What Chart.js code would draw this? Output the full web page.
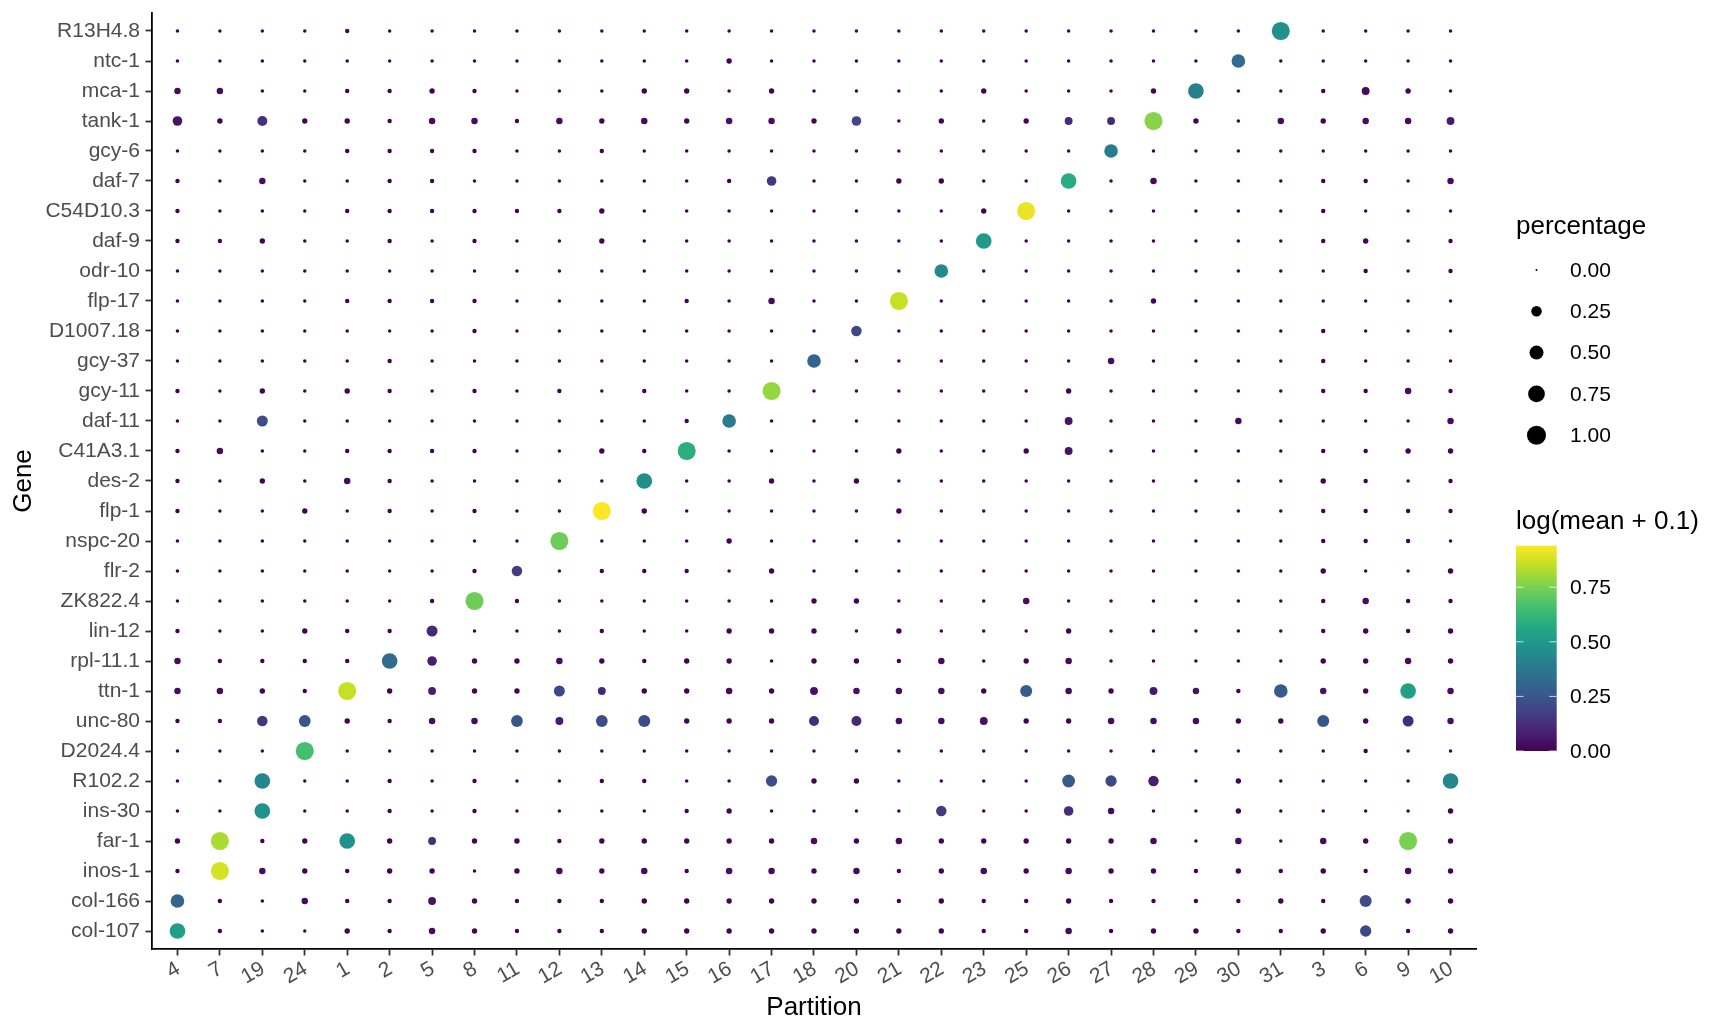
<!DOCTYPE html>
<html>
<head>
<meta charset="utf-8">
<script src="https://cdn.jsdelivr.net/npm/chart.js@4.4.1/dist/chart.umd.min.js"></script>
<style>
  html, body { margin: 0; padding: 0; background: #fff; }
  canvas { display: block; }
</style>
</head>
<body>
<canvas id="dotplot" width="1728" height="1036"></canvas>
<script>
// genes from top to bottom, partitions from left to right
const genes = ['R13H4.8', 'ntc-1', 'mca-1', 'tank-1', 'gcy-6', 'daf-7', 'C54D10.3', 'daf-9', 'odr-10', 'flp-17',
    'D1007.18', 'gcy-37', 'gcy-11', 'daf-11', 'C41A3.1', 'des-2', 'flp-1', 'nspc-20', 'flr-2', 'ZK822.4',
    'lin-12', 'rpl-11.1', 'ttn-1', 'unc-80', 'D2024.4', 'R102.2', 'ins-30', 'far-1', 'inos-1', 'col-166', 'col-107'];
const partitions = ['4', '7', '19', '24', '1', '2', '5', '8', '11', '12', '13', '14', '15', '16', '17', '18',
    '20', '21', '22', '23', '25', '26', '27', '28', '29', '30', '31', '3', '6', '9', '10'];

// fraction of cells expressing, one row per gene
const percentage = [
    [.008,.008,.008,.008,.02,.008,.008,.008,.008,.008,.008, .008,.008,.008,.008,.008,.008,.008,.008,.008,.008, .008,.008,.008,.008,.008,.9,.008,.008,.008,.008],
    [.008,.008,.008,.008,.008,.008,.008,.008,.008,.008,.008, .008,.008,.04,.008,.008,.008,.008,.008,.008,.008, .008,.008,.008,.008,.47,.008,.008,.008,.008,.008],
    [.07,.07,.008,.008,.02,.02,.04,.02,.008,.008,.008, .04,.04,.008,.04,.008,.008,.008,.008,.04,.008, .008,.008,.04,.65,.008,.008,.02,.12,.04,.008],
    [.2,.04,.22,.04,.04,.02,.07,.07,.02,.07,.04, .07,.04,.07,.07,.04,.2,.008,.04,.008,.04, .12,.12,.9,.04,.008,.07,.04,.07,.07,.12],
    [.008,.008,.008,.008,.02,.02,.02,.02,.008,.008,.02, .008,.008,.008,.008,.008,.008,.008,.008,.008,.008, .008,.47,.008,.008,.008,.008,.008,.008,.008,.008],
    [.02,.008,.07,.008,.008,.02,.02,.008,.008,.008,.008, .008,.008,.02,.2,.008,.008,.04,.04,.008,.008, .65,.008,.07,.008,.008,.008,.02,.02,.008,.07],
    [.02,.008,.008,.008,.02,.02,.02,.02,.02,.02,.04, .008,.008,.008,.008,.008,.008,.008,.008,.04,.9, .008,.008,.008,.008,.008,.008,.02,.008,.008,.008],
    [.02,.02,.04,.008,.008,.02,.008,.02,.008,.008,.04, .008,.008,.008,.008,.008,.008,.008,.008,.65,.008, .008,.008,.008,.008,.008,.008,.02,.04,.008,.02],
    [.008,.008,.008,.008,.008,.008,.008,.008,.008,.008,.008, .008,.008,.008,.008,.008,.008,.008,.47,.008,.008, .008,.008,.008,.008,.008,.008,.008,.02,.008,.02],
    [.008,.008,.008,.008,.02,.02,.02,.02,.008,.008,.008, .008,.02,.008,.07,.008,.008,.9,.008,.008,.008, .008,.008,.04,.008,.008,.008,.008,.008,.008,.008],
    [.008,.008,.008,.008,.008,.008,.008,.02,.008,.008,.008, .008,.008,.008,.008,.008,.25,.008,.008,.008,.008, .008,.008,.008,.008,.008,.008,.02,.008,.008,.008],
    [.008,.008,.008,.008,.008,.02,.008,.008,.008,.008,.008, .008,.008,.008,.008,.47,.008,.008,.008,.008,.008, .008,.07,.008,.008,.008,.008,.02,.008,.008,.008],
    [.02,.008,.04,.008,.04,.02,.008,.02,.008,.02,.008, .02,.008,.008,.9,.008,.008,.008,.008,.008,.008, .04,.008,.008,.008,.008,.008,.02,.02,.07,.02],
    [.008,.008,.28,.008,.008,.008,.008,.008,.008,.008,.008, .008,.02,.47,.008,.008,.008,.008,.008,.008,.008, .12,.008,.008,.008,.07,.008,.008,.008,.008,.07],
    [.02,.07,.008,.008,.02,.02,.02,.02,.008,.008,.04, .02,.9,.008,.008,.008,.008,.04,.008,.008,.04, .12,.008,.008,.008,.008,.008,.02,.02,.04,.04],
    [.02,.008,.04,.008,.07,.02,.008,.008,.008,.008,.008, .65,.008,.008,.04,.008,.04,.008,.008,.008,.008, .008,.008,.008,.008,.008,.008,.04,.02,.008,.02],
    [.02,.008,.008,.04,.008,.02,.008,.02,.008,.008,.9, .04,.008,.008,.008,.008,.008,.04,.008,.008,.008, .008,.008,.008,.008,.008,.008,.02,.02,.02,.02],
    [.008,.008,.008,.008,.008,.008,.008,.008,.008,.9,.008, .008,.008,.04,.008,.008,.008,.008,.008,.008,.008, .008,.008,.008,.008,.008,.008,.02,.02,.02,.008],
    [.008,.008,.008,.008,.008,.008,.008,.02,.25,.008,.02, .02,.02,.008,.04,.008,.008,.008,.008,.008,.008, .008,.008,.008,.008,.008,.008,.04,.008,.008,.04],
    [.008,.008,.008,.008,.008,.008,.02,.9,.02,.008,.008, .008,.008,.008,.008,.04,.04,.008,.008,.008,.07, .008,.008,.008,.008,.008,.008,.02,.07,.02,.02],
    [.02,.008,.008,.04,.02,.02,.28,.008,.008,.008,.02, .008,.008,.04,.04,.04,.008,.04,.008,.008,.008, .04,.008,.008,.008,.008,.008,.02,.04,.02,.04],
    [.07,.02,.02,.02,.02,.65,.2,.04,.04,.07,.04, .02,.04,.04,.008,.04,.04,.02,.07,.008,.04, .07,.008,.008,.008,.008,.008,.04,.04,.07,.04],
    [.07,.07,.04,.02,.9,.04,.12,.04,.04,.28,.12, .04,.04,.07,.04,.12,.07,.07,.07,.04,.35, .07,.04,.12,.07,.02,.47,.07,.04,.65,.07],
    [.02,.02,.25,.33,.04,.02,.07,.07,.33,.12,.33, .35,.04,.04,.04,.22,.22,.07,.07,.12,.04, .04,.07,.07,.07,.04,.04,.35,.04,.28,.07],
    [.008,.008,.008,.9,.008,.008,.008,.008,.008,.008,.008, .008,.008,.008,.008,.008,.008,.008,.008,.008,.008, .008,.008,.008,.008,.008,.008,.008,.02,.008,.008],
    [.008,.008,.65,.008,.008,.02,.008,.02,.008,.008,.02, .02,.008,.008,.3,.04,.04,.008,.008,.008,.008, .4,.3,.25,.008,.04,.008,.008,.008,.008,.65],
    [.008,.008,.65,.008,.008,.02,.008,.02,.008,.008,.008, .008,.02,.04,.008,.008,.008,.008,.25,.008,.008, .2,.07,.008,.008,.04,.008,.008,.008,.008,.04],
    [.04,.9,.02,.04,.65,.04,.12,.04,.04,.02,.04, .04,.04,.04,.04,.07,.04,.07,.04,.04,.04, .04,.04,.07,.008,.07,.008,.07,.04,.9,.04],
    [.02,.9,.07,.04,.02,.04,.04,.008,.04,.07,.04, .07,.02,.07,.07,.04,.07,.02,.04,.07,.04, .07,.04,.04,.02,.04,.02,.04,.02,.07,.04],
    [.47,.02,.008,.07,.02,.02,.12,.04,.02,.02,.02, .04,.04,.04,.04,.04,.04,.02,.04,.02,.02, .04,.02,.02,.02,.02,.04,.02,.35,.04,.04],
    [.65,.02,.008,.008,.04,.02,.07,.04,.02,.02,.02, .04,.04,.04,.04,.04,.04,.04,.04,.02,.02, .07,.02,.04,.04,.02,.02,.04,.3,.02,.04]
];

// log(mean + 0.1), same layout
const logMean = [
    [0,0,0,0,.01,0,0,0,0,0,0, 0,0,0,0,0,0,0,0,0,0, 0,0,0,0,0,.47,0,0,0,0],
    [0,0,0,0,0,0,0,0,0,0,0, 0,0,.01,0,0,0,0,0,0,0, 0,0,0,0,.33,0,0,0,0,0],
    [.03,.03,0,0,0,0,.01,0,0,0,0, .01,.01,0,.01,0,0,0,0,.01,0, 0,0,.01,.41,0,0,0,.03,.01,0],
    [.05,.01,.13,.01,.01,0,.03,.03,0,.03,.01, .03,.01,.05,.04,.01,.2,0,.01,0,.01, .12,.12,.77,.01,0,.03,.01,.03,.03,.07],
    [0,0,0,0,0,0,0,0,0,0,0, 0,0,0,0,0,0,0,0,0,0, 0,.39,0,0,0,0,0,0,0,0],
    [0,0,.04,0,0,0,0,0,0,0,0, 0,0,0,.15,0,0,.01,.01,0,0, .58,0,.03,0,0,0,0,0,0,.03],
    [0,0,0,0,0,0,0,0,0,0,.01, 0,0,0,0,0,0,0,0,.01,.91, 0,0,0,0,0,0,0,0,0,0],
    [0,0,.01,0,0,0,0,0,0,0,.01, 0,0,0,0,0,0,0,0,.51,0, 0,0,0,0,0,0,0,.01,0,0],
    [0,0,0,0,0,0,0,0,0,0,0, 0,0,0,0,0,0,0,.44,0,0, 0,0,0,0,0,0,0,0,0,0],
    [0,0,0,0,0,0,0,0,0,0,0, 0,0,0,.03,0,0,.86,0,0,0, 0,0,.01,0,0,0,0,0,0,0],
    [0,0,0,0,0,0,0,0,0,0,0, 0,0,0,0,0,.2,0,0,0,0, 0,0,0,0,0,0,0,0,0,0],
    [0,0,0,0,0,0,0,0,0,0,0, 0,0,0,0,.3,0,0,0,0,0, 0,.03,0,0,0,0,0,0,0,0],
    [0,0,.01,0,.01,0,0,0,0,0,0, 0,0,0,.79,0,0,0,0,0,0, .01,0,0,0,0,0,0,0,.03,0],
    [0,0,.22,0,0,0,0,0,0,0,0, 0,0,.39,0,0,0,0,0,0,0, .05,0,0,0,.03,0,0,0,0,.03],
    [0,.03,0,0,0,0,0,0,0,0,.01, 0,.59,0,0,0,0,.01,0,0,.01, .05,0,0,0,0,0,0,0,.01,.01],
    [0,0,.01,0,.03,0,0,0,0,0,0, .46,0,0,.01,0,.01,0,0,0,0, 0,0,0,0,0,0,.01,0,0,0],
    [0,0,0,.01,0,0,0,0,0,0,.94, .01,0,0,0,0,0,.01,0,0,0, 0,0,0,0,0,0,0,0,0,0],
    [0,0,0,0,0,0,0,0,0,.73,0, 0,0,.01,0,0,0,0,0,0,0, 0,0,0,0,0,0,0,0,0,0],
    [0,0,0,0,0,0,0,0,.16,0,0, 0,0,0,.01,0,0,0,0,0,0, 0,0,0,0,0,0,.01,0,0,.01],
    [0,0,0,0,0,0,0,.73,0,0,0, 0,0,0,0,.01,.01,0,0,0,.03, 0,0,0,0,0,0,0,.03,0,0],
    [0,0,0,.01,0,0,.11,0,0,0,0, 0,0,.01,.01,.01,0,.01,0,0,0, .01,0,0,0,0,0,0,.01,0,.01],
    [.03,0,0,0,0,.33,.08,.01,.01,.03,.01, 0,.01,.01,0,.01,.01,0,.03,0,.01, .03,0,0,0,0,0,.01,.01,.03,.01],
    [.03,.03,.01,0,.86,.01,.08,.01,.01,.2,.1, .01,.01,.03,.01,.05,.04,.04,.04,.01,.27, .03,.01,.06,.05,0,.27,.05,.01,.53,.03],
    [0,0,.14,.25,.01,0,.03,.03,.25,.07,.22, .22,.01,.01,.01,.12,.1,.03,.03,.05,.01, .01,.03,.03,.03,.01,.01,.25,.01,.12,.04],
    [0,0,0,.66,0,0,0,0,0,0,0, 0,0,0,0,0,0,0,0,0,0, 0,0,0,0,0,0,0,0,0,0],
    [0,0,.43,0,0,0,0,0,0,0,0, 0,0,0,.22,.01,.01,0,0,0,0, .26,.2,.08,0,.01,0,0,0,0,.43],
    [0,0,.47,0,0,0,0,0,0,0,0, 0,0,.01,0,0,0,0,.16,0,0, .12,.03,0,0,.01,0,0,0,0,.01],
    [.01,.82,0,.01,.47,.01,.13,.01,.01,0,.01, .01,.01,.01,.01,.03,.01,.03,.01,.01,.01, .01,.01,.03,0,.03,0,.03,.01,.75,.01],
    [0,.88,.03,.01,0,.01,.01,0,.01,.03,.01, .03,0,.03,.03,.01,.03,0,.01,.03,.01, .03,.01,.01,0,.01,0,.01,0,.03,.01],
    [.31,0,0,.03,0,0,.05,.01,0,0,0, .01,.01,.01,.01,.01,.01,0,.01,0,0, .01,0,0,0,0,.01,0,.22,.01,.01],
    [.52,0,0,0,.01,0,.03,.01,0,0,0, .01,.01,.01,.01,.01,.01,.01,.01,0,0, .03,0,.01,.01,0,0,.01,.2,0,.01]
];

const sizeBreaks = [0, 0.25, 0.5, 0.75, 1];
const colourBreaks = [0, 0.25, 0.5, 0.75];
const colourMax = 0.94;

const FONT = '"Liberation Sans", Arial, Helvetica, sans-serif';
const viridisStops = ['#440154', '#482475', '#414487', '#355f8d', '#2a788e', '#21918c',
    '#22a884', '#44bf70', '#7ad151', '#bddf26', '#fde725'];

function hexRgb(h) {
    return [parseInt(h.slice(1, 3), 16), parseInt(h.slice(3, 5), 16), parseInt(h.slice(5, 7), 16)];
}

function viridis(t) {
    t = Math.max(0, Math.min(1, t));
    var pos = t * (viridisStops.length - 1);
    var k = Math.min(Math.floor(pos), viridisStops.length - 2);
    var f = pos - k;
    var a = hexRgb(viridisStops[k]), b = hexRgb(viridisStops[k + 1]);
    var c = a.map((v, n) => Math.round(v + (b[n] - v) * f));
    return 'rgb(' + c.join(',') + ')';
}

// ggplot area scale -> radius in px
function dotRadius(p) {
    return 1 + 8.5 * Math.sqrt(p);
}

var points = [];
genes.forEach((g, j) => {
    partitions.forEach((part, i) => {
        points.push({ x: i, y: j, p: percentage[j][i], v: logMean[j][i] });
    });
});

// legend drawn by hand, ggplot style
const legendPlugin = {
    id: 'ggLegend',
    afterDraw(chart) {
        const ctx = chart.ctx;
        ctx.save();
        ctx.fillStyle = '#000';
        ctx.textAlign = 'left';

        ctx.font = '26px ' + FONT;
        ctx.textBaseline = 'alphabetic';
        ctx.fillText('percentage', 1516, 234);

        ctx.font = '21px ' + FONT;
        ctx.textBaseline = 'middle';
        sizeBreaks.forEach((b, k) => {
            var y = 270 + k * 41.3;
            ctx.beginPath();
            ctx.arc(1536.5, y, dotRadius(b), 0, Math.PI * 2);
            ctx.fill();
            ctx.fillText(b.toFixed(2), 1570, y + 1);
        });

        ctx.font = '26px ' + FONT;
        ctx.textBaseline = 'alphabetic';
        ctx.fillText('log(mean + 0.1)', 1516, 528.5);

        var barLeft = 1516, barW = 40.7, barTop = 545.7, barBottom = 751;
        var grad = ctx.createLinearGradient(0, barBottom, 0, barTop);
        viridisStops.forEach((c, k) => grad.addColorStop(k / (viridisStops.length - 1), c));
        ctx.fillStyle = grad;
        ctx.fillRect(barLeft, barTop, barW, barBottom - barTop);

        ctx.strokeStyle = 'rgba(255,255,255,0.75)';
        ctx.lineWidth = 1;
        ctx.fillStyle = '#000';
        ctx.font = '21px ' + FONT;
        ctx.textBaseline = 'middle';
        colourBreaks.forEach((b) => {
            var y = barBottom - (b / colourMax) * (barBottom - barTop);
            ctx.beginPath();
            ctx.moveTo(barLeft, y); ctx.lineTo(barLeft + 7.5, y);
            ctx.moveTo(barLeft + barW - 7.5, y); ctx.lineTo(barLeft + barW, y);
            ctx.stroke();
            ctx.fillText(b.toFixed(2), 1570, y + 1);
        });
        ctx.restore();
    }
};

const tickFont = { family: FONT, size: 21 };
const titleFont = { family: FONT, size: 26 };

new Chart(document.getElementById('dotplot'), {
    type: 'scatter',
    data: {
        datasets: [{
            data: points,
            pointRadius: (c) => dotRadius(c.raw.p),
            pointHoverRadius: (c) => dotRadius(c.raw.p),
            pointBackgroundColor: (c) => viridis(c.raw.v / colourMax),
            pointBorderWidth: 0,
            pointBorderColor: 'rgba(0,0,0,0)'
        }]
    },
    options: {
        responsive: false,
        devicePixelRatio: 1,
        animation: false,
        events: [],
        layout: { padding: { left: 0, top: 13, right: 252, bottom: 0 } },
        plugins: {
            legend: { display: false },
            tooltip: { enabled: false }
        },
        scales: {
            x: {
                type: 'linear',
                position: 'bottom',
                min: -0.6,
                max: partitions.length - 0.4,
                afterBuildTicks: (axis) => { axis.ticks = partitions.map((p, i) => ({ value: i })); },
                afterFit: (axis) => {
                    axis.height = 87;
                    axis.paddingLeft = 0; axis.paddingRight = 0;
                },
                grid: { drawOnChartArea: false, tickLength: 6.5, tickColor: '#333', tickWidth: 1.8 },
                border: { display: true, color: '#000', width: 1.8 },
                ticks: {
                    color: '#4d4d4d',
                    font: tickFont,
                    autoSkip: false,
                    minRotation: 30,
                    maxRotation: 30,
                    padding: 1,
                    labelOffset: 1,
                    callback: (v) => partitions[v]
                },
                title: { display: true, text: 'Partition', color: '#000', font: titleFont, padding: { top: 0, bottom: 13 } }
            },
            y: {
                type: 'linear',
                reverse: true,
                min: -0.6,
                max: genes.length - 0.4,
                afterBuildTicks: (axis) => { axis.ticks = genes.map((g, j) => ({ value: j })); },
                afterFit: (axis) => {
                    axis.width = 152;
                    axis.paddingTop = 0; axis.paddingBottom = 0;
                },
                grid: { drawOnChartArea: false, tickLength: 6.5, tickColor: '#333', tickWidth: 1.8 },
                border: { display: true, color: '#000', width: 1.8 },
                ticks: {
                    color: '#4d4d4d',
                    font: tickFont,
                    autoSkip: false,
                    padding: 5.5,
                    callback: (v) => genes[v]
                },
                title: { display: true, text: 'Gene', color: '#000', font: titleFont, padding: { top: 8, bottom: 0 } }
            }
        }
    },
    plugins: [legendPlugin]
});
</script>
</body>
</html>
